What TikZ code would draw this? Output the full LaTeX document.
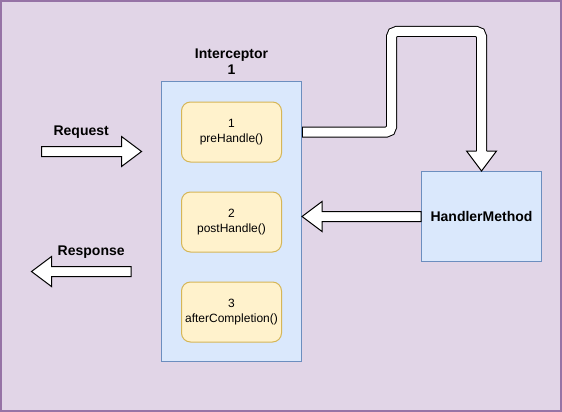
\documentclass[tikz,border=0pt]{standalone}
\usepackage{fontspec}
\setmainfont{Liberation Sans}
\usetikzlibrary{calc}
\definecolor{bgpurple}{HTML}{E1D5E7}
\definecolor{bgborder}{HTML}{9673A6}
\definecolor{boxblue}{HTML}{DAE8FC}
\definecolor{blueborder}{HTML}{6C8EBF}
\definecolor{boxyellow}{HTML}{FFF2CC}
\definecolor{yellowborder}{HTML}{D6B656}
\tikzset{
	labelfont/.style={font=\fontsize{14}{16}\selectfont\bfseries},
	stagebox/.style={draw=yellowborder,fill=boxyellow,rounded corners=9,minimum width=100,minimum height=60,align=center,font=\fontsize{12}{14.4}\selectfont},
	bluebox/.style={draw=blueborder,fill=boxblue},
	blockarrow/.style={draw=black,fill=white,line width=1pt},
	hollowpipe/.style={draw=black,line width=1pt,double=white,double distance=9pt,rounded corners=5}
}

\begin{document}
\begin{tikzpicture}[x=1pt,y=-1pt,line width=1pt]
		\useasboundingbox (0,0) rectangle (562,412);
		% background
		\draw[draw=bgborder,fill=bgpurple,line width=1.5pt] (1,1) rectangle (561,411);
		% interceptor and its stages
		\node[bluebox,minimum width=140,minimum height=280] (interceptor) at (231.5,221.5) {};
		\node[labelfont,align=center] (title) at (231.5,62) {Interceptor\\1};
		\node[stagebox] (stage1) at (231.5,132) {1\\preHandle()};
		\node[stagebox] (stage2) at (231.5,222) {2\\postHandle()};
		\node[stagebox] (stage3) at (231.5,312) {3\\afterCompletion()};
		\node[bluebox,labelfont,minimum width=120,minimum height=90] (handler) at (481.5,216.5) {HandlerMethod};
		% request and response
		\coordinate (req-tail) at (41.5,151.5);
		\coordinate (req-tip) at (141.5,151.5);
		\coordinate (resp-tail) at (131,271.5);
		\coordinate (resp-tip) at (31.5,271.5);
		\node[labelfont] (req-label) at (81.2,132) {Request};
		\node[labelfont] (resp-label) at (91.2,252) {Response};
		\draw[blockarrow] ($(req-tail)+(0,-5)$) -- ($(req-tip)+(-20,-5)$) -- ($(req-tip)+(-20,-15)$) -- (req-tip) -- ($(req-tip)+(-20,15)$) -- ($(req-tip)+(-20,5)$) -- ($(req-tail)+(0,5)$) -- cycle;
		\draw[blockarrow] ($(resp-tail)+(0,-5)$) -- ($(resp-tip)+(20,-5)$) -- ($(resp-tip)+(20,-15)$) -- (resp-tip) -- ($(resp-tip)+(20,15)$) -- ($(resp-tip)+(20,5)$) -- ($(resp-tail)+(0,5)$) -- cycle;
		% handler back to postHandle
		\coordinate (back-tip) at (interceptor.east |- handler.west);
		\draw[blockarrow] ($(handler.west)+(0,-5)$) -- ($(back-tip)+(20,-5)$) -- ($(back-tip)+(20,-15)$) -- (back-tip) -- ($(back-tip)+(20,15)$) -- ($(back-tip)+(20,5)$) -- ($(handler.west)+(0,5)$) -- cycle;
		% preHandle out to handler
		\coordinate (pipe-start) at (interceptor.east |- stage1);
		\draw[hollowpipe] (pipe-start) -| (391.5,31.5) -| ($(handler.north)+(0,-19)$);
		\draw ($(pipe-start)+(0,-5)$) -- ++(0,10);
		\filldraw[fill=white] ($(handler.north)+(-5,-20)$) -- ++(-10,0) -- (handler.north) -- ($(handler.north)+(15,-20)$) -- ++(-10,0);
	\end{tikzpicture}
\end{document}
